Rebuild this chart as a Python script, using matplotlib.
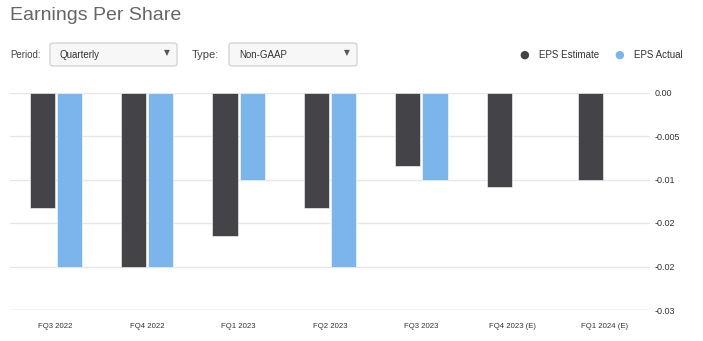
import matplotlib.pyplot as plt
import numpy as np
from matplotlib.patches import FancyBboxPatch

plt.rcParams['font.family'] = ['Liberation Sans', 'DejaVu Sans']

# ==================== DATA ====================
quarters = ['FQ3 2022', 'FQ4 2022', 'FQ1 2023', 'FQ2 2023',
            'FQ3 2023', 'FQ4 2023 (E)', 'FQ1 2024 (E)']
eps_estimate = [-0.0133, -0.02, -0.0165, -0.0133, -0.0084, -0.0109, -0.01]
eps_actual = [-0.02, -0.02, -0.01, -0.02, -0.01, None, None]
y_ticks = [0, -0.005, -0.01, -0.015, -0.02, -0.025]
y_tick_labels = ['0.00', '-0.005', '-0.01', '-0.02', '-0.02', '-0.03']

# colours
c_est = '#434348'
c_act = '#7cb5ec'
c_grid = '#e6e6e6'
c_text = '#333333'

W, H = 703, 341
fig = plt.figure(figsize=(W / 100, H / 100), dpi=100)

# plot area in pixel terms
left_px, right_px, top_px, bot_px = 10, 650, 92.5, 310
ax = fig.add_axes([left_px / W, 1 - bot_px / H,
                   (right_px - left_px) / W, (bot_px - top_px) / H])

x = np.arange(len(quarters))
bw = 0.275
off = 0.148
ax.bar(x - off, eps_estimate, bw, color=c_est, edgecolor='white', linewidth=0.4, zorder=3)
act_x = [xi + off for xi, v in zip(x, eps_actual) if v is not None]
act_v = [v for v in eps_actual if v is not None]
ax.bar(act_x, act_v, bw, color=c_act, edgecolor='white', linewidth=0.4, zorder=3)

ax.set_xlim(-0.5, len(quarters) - 0.5)
ax.set_ylim(-0.025, 0)
ax.set_yticks(y_ticks)
ax.set_yticklabels(y_tick_labels)
ax.yaxis.tick_right()
ax.tick_params(axis='y', length=0, pad=3, labelsize=6.5, labelcolor=c_text)
ax.set_xticks(x)
ax.set_xticklabels(quarters)
ax.tick_params(axis='x', length=0, pad=9, labelsize=5.6, labelcolor=c_text)
ax.grid(axis='y', color=c_grid, linewidth=1, zorder=0)
for s in ['top', 'left', 'right', 'bottom']:
    ax.spines[s].set_visible(False)
ax.axhline(-0.025, color='#d8d8d8', linewidth=1, zorder=1)
for lbl in ax.get_yticklabels():
    lbl.set_horizontalalignment('left')

# ==================== HEADER ====================
def fx(px):
    return px / W

def fy(py):
    return 1 - py / H

fig.text(fx(10), fy(15), 'Earnings Per Share', fontsize=14, color='#666666',
         va='center', ha='left')

fig.text(fx(10), fy(55), 'Period:', fontsize=7, color='#444444', va='center')
fig.text(fx(192), fy(55), 'Type:', fontsize=8, color='#444444', va='center')

for (x0, x1, label) in [(50, 177, 'Quarterly'), (229, 357, 'Non-GAAP')]:
    box = FancyBboxPatch((fx(x0), fy(66)), fx(x1 - x0), (66 - 43) / H,
                         boxstyle='round,pad=0,rounding_size=0.006',
                         transform=fig.transFigure, facecolor='#f7f7f7',
                         edgecolor='#cccccc', linewidth=0.8)
    fig.add_artist(box)
    fig.text(fx(x0 + 10), fy(55), label, fontsize=7, color='#333333', va='center')
    fig.text(fx(x1 - 10), fy(53), '\u25bc', fontsize=5.5, color='#555555',
             va='center', ha='center', family='DejaVu Sans')

# legend
for cx, tx, col, lab in [(524, 539, c_est, 'EPS Estimate'), (619, 634, c_act, 'EPS Actual')]:
    fig.text(fx(cx), fy(54.5), '\u25cf', fontsize=8, color=col, va='center',
             ha='center', family='DejaVu Sans')
    fig.text(fx(tx), fy(54.5), lab, fontsize=7, color='#333333', va='center')

plt.savefig('out.png', dpi=100)
